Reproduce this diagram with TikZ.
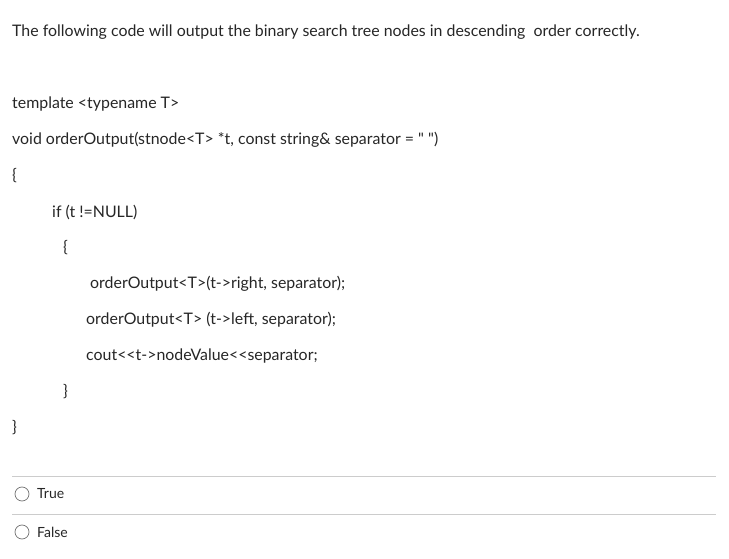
\documentclass[tikz,border=0pt]{standalone}
\usepackage{fontspec}
\setmainfont{Lato}[Ligatures=TeXOff]
\begin{document}
\begin{tikzpicture}[x=1pt,y=-1pt,
  txt/.style={anchor=west,inner sep=0pt,font=\fontsize{15.9}{18}\selectfont,text=black!85},
  opt/.style={anchor=west,inner sep=0pt,font=\fontsize{14}{16}\selectfont,text=black!85},
  rule/.style={draw=black!20,line width=0.8pt},
  radio/.style={circle,draw=black!55,line width=0.7pt,minimum size=14pt,inner sep=0pt}]
\useasboundingbox (0,0) rectangle (729,559);
\node[txt] (q) at (12,32) {The following code will output the binary search tree nodes in descending\ \ order correctly.};
\node[txt] (l1) at (12,104) {template <typename T>};
\node[txt] (l2) at (12,140) {void orderOutput(stnode<T> *t, const string\& separator = " ")};
\node[txt] (l3) at (12,176) {\{};
\node[txt] (l4) at (52,212) {if (t !=NULL)};
\node[txt] (l5) at (63,248) {\{};
\node[txt] (l6) at (90,284) {orderOutput<T>(t->right, separator);};
\node[txt] (l7) at (86,320) {orderOutput<T> (t->left, separator);};
\node[txt] (l8) at (86,356) {cout<<t->nodeValue<<separator;};
\node[txt] (l9) at (63,392) {\}};
\node[txt] (l10) at (12,428) {\}};
\coordinate (r1a) at (12,476); \coordinate (r1b) at (716,476);
\coordinate (r2a) at (12,514); \coordinate (r2b) at (716,514);
\draw[rule] (r1a) -- (r1b);
\draw[rule] (r2a) -- (r2b);
\node[radio] (c1) at (22,494) {};
\node[opt] (t1) at (37,494) {True};
\node[radio] (c2) at (22,532) {};
\node[opt] (t2) at (37,532) {False};
\end{tikzpicture}
\end{document}
